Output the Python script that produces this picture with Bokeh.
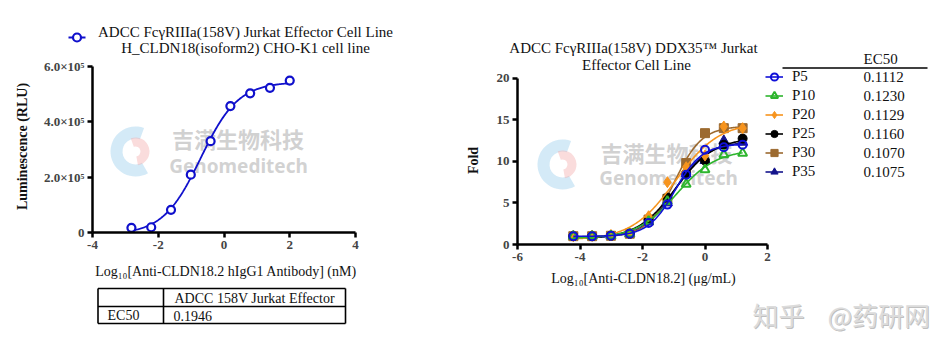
import numpy as np
from bokeh.plotting import figure
from bokeh.layouts import row
from bokeh.models import Range1d, FixedTicker, Legend, LegendItem
from bokeh.core.properties import value
from bokeh.embed import file_html
from bokeh.resources import INLINE

SERIF = "Liberation Serif"
CJK = "Noto Sans CJK SC"

# ---------------- data: left chart ----------------
left_log_conc = [-2.816, -2.214, -1.612, -1.010, -0.408, 0.194, 0.796, 1.398, 2.000]
left_rlu = [17000, 19000, 82000, 209000, 330000, 457000, 503000, 523000, 549000]
left_ec50 = 0.1946
left_series_lines = ["ADCC FcγRIIIa(158V) Jurkat Effector Cell Line",
                     "H_CLDN18(isoform2) CHO-K1 cell line"]
left_xticks = [-4, -2, 0, 2, 4]
left_xtick_labels = ["-4", "-2", "0", "2", "4"]
left_yticks = [0, 200000, 400000, 600000]
left_ytick_labels = ["0", "2.0×10⁵", "4.0×10⁵", "6.0×10⁵"]
left_xlabel = "Log₁₀[Anti-CLDN18.2 hIgG1 Antibody] (nM)"
left_ylabel = "Luminescence (RLU)"
left_table_header = "ADCC 158V Jurkat Effector"
left_table_rowname = "EC50"

# ---------------- data: right chart ----------------
right_log_conc = [-4.214, -3.612, -3.010, -2.408, -1.806, -1.204, -0.602, 0.000, 0.602, 1.204]
passages = ["P5", "P10", "P20", "P25", "P30", "P35"]
fold_p5 = [1.0, 1.0, 1.05, 1.3, 2.6, 4.8, 8.4, 11.4, 11.7, 12.0]
fold_p10 = [1.0, 1.0, 1.05, 1.3, 2.8, 5.2, 7.25, 9.0, 10.8, 11.0]
fold_p20 = [1.0, 1.05, 1.15, 1.4, 3.4, 7.5, 9.3, 10.7, 14.2, 14.0]
fold_p25 = [1.0, 1.0, 1.05, 1.3, 3.0, 5.65, 8.6, 10.1, 12.0, 12.75]
fold_p30 = [1.0, 1.0, 1.05, 1.3, 3.0, 5.5, 9.8, 13.4, 14.0, 14.0]
fold_p35 = [1.0, 1.0, 1.05, 1.3, 2.7, 5.0, 8.5, 10.1, 12.5, 12.3]
ec50_values = [0.1112, 0.1230, 0.1129, 0.1160, 0.1070, 0.1075]
right_xticks = [-6, -4, -2, 0, 2]
right_xtick_labels = ["-6", "-4", "-2", "0", "2"]
right_yticks = [0, 5, 10, 15, 20]
right_title_lines = ["ADCC FcγRIIIa(158V) DDX35™ Jurkat", "Effector Cell Line"]
right_xlabel = "Log₁₀[Anti-CLDN18.2] (μg/mL)"
right_ylabel = "Fold"

# ---------------- styles ----------------
BLUE = "#1010CC"
INK = "#111111"
styles = {
    "P5":  dict(color="#1010D8", marker="circle",   fill=None,      size=8, lw=2.0),
    "P10": dict(color="#2DB52D", marker="triangle", fill=None,      size=9, lw=2.0),
    "P20": dict(color="#F7941D", marker="diamond",  fill="#F7941D", size=11, lw=1.0),
    "P25": dict(color="#000000", marker="circle",   fill="#000000", size=9, lw=1.0),
    "P30": dict(color="#9C6A30", marker="square",   fill="#9C6A30", size=9, lw=1.0),
    "P35": dict(color="#14148C", marker="triangle", fill="#14148C", size=10, lw=1.0),
}
COMMON = dict(output_backend="svg", toolbar_location=None, frame_align=False, min_border=0)


def fit_4pl(x, y, log_ec50):
    """Least-squares fit of bottom/top/hill with EC50 fixed to the reported value."""
    x = np.asarray(x, float)
    y = np.asarray(y, float)
    best = None
    for h in np.linspace(0.3, 3.0, 271):
        s = 1.0 / (1.0 + 10.0 ** ((log_ec50 - x) * h))
        A = np.column_stack([1 - s, s])
        coef, *_ = np.linalg.lstsq(A, y, rcond=None)
        r = float(np.sum((A @ coef - y) ** 2))
        if best is None or r < best[0]:
            best = (r, coef[0], coef[1], h)
    _, bottom, top, h = best
    xs = np.linspace(x.min(), x.max(), 200)
    ys = bottom + (top - bottom) / (1.0 + 10.0 ** ((log_ec50 - xs) * h))
    return xs, ys


def style_axes(p, xloc, yloc, xbounds, ybounds):
    p.xaxis.fixed_location = xloc
    p.yaxis.fixed_location = yloc
    p.xaxis.bounds = xbounds
    p.yaxis.bounds = ybounds
    for ax in p.axis:
        ax.axis_line_width = 2.5
        ax.major_tick_line_width = 2.5
        ax.major_tick_in = 0
        ax.major_tick_out = 5
        ax.minor_tick_line_color = None
        ax.major_label_text_font = SERIF
        ax.major_label_text_font_style = "bold"
        ax.major_label_text_font_size = "13px"
        ax.major_label_standoff = 3
    p.grid.visible = False
    p.outline_line_color = None


def put_text(f, xs, ys, texts, align="left", size="15px", font=SERIF, color=INK, style="normal",
             alpha=1.0, angle=0.0):
    f.text(x=xs, y=ys, text=texts, text_align=align, text_baseline="middle",
           text_font=value(font), text_font_size=size, text_color=color,
           text_font_style=style, text_alpha=alpha, angle=angle)


def logo(p, cx, cy):
    p.annular_wedge(x=[cx], y=[cy], inner_radius=13, outer_radius=25,
                    inner_radius_units="screen", outer_radius_units="screen",
                    start_angle=np.radians(70), end_angle=np.radians(300),
                    color="#9FD0EE", alpha=0.45, line_alpha=0)
    p.annular_wedge(x=[cx], y=[cy], inner_radius=5, outer_radius=14,
                    inner_radius_units="screen", outer_radius_units="screen",
                    start_angle=np.radians(-80), end_angle=np.radians(110),
                    color="#F2A7A7", alpha=0.4, line_alpha=0)


def watermark(p, cx1, cy1, cx2, cy2):
    put_text(p, [cx1], [cy1], ["吉满生物科技"], align="center", size="22px", font=CJK,
             color="#BDBDBD", style="bold", alpha=0.7)
    put_text(p, [cx2], [cy2], ["Genomeditech"], align="center", size="19px", font="Noto Sans",
             color="#C4C4C4", style="bold", alpha=0.75)


# ======================= LEFT CHART (page x 0..460) =======================
def lx(px):  # page x -> data x  (x=-4 at page 92, 32.875 px per unit)
    return -4 + (px - 92) / 32.875


def ly(py):  # page y -> data y  (y=0 at page 232, 6e5 at page 66)
    return (232 - py) / 166.0 * 600000


pl = figure(width=460, height=345, x_range=Range1d(lx(0), lx(460)), y_range=Range1d(ly(345), ly(0)),
            **COMMON)
style_axes(pl, 0, -4, (-4, 4), (0, 600000))
pl.xaxis.ticker = FixedTicker(ticks=left_xticks)
pl.xaxis.major_label_overrides = dict(zip(left_xticks, left_xtick_labels))
pl.yaxis.ticker = FixedTicker(ticks=left_yticks)
pl.yaxis.major_label_overrides = dict(zip(left_yticks, left_ytick_labels))

logo(pl, lx(135), ly(151))
watermark(pl, lx(237.5), ly(137), lx(238), ly(165))

lxs, lys = fit_4pl(left_log_conc, left_rlu, np.log10(left_ec50))
pl.line(lxs, lys, color=BLUE, line_width=1.8)
pl.scatter(left_log_conc, left_rlu, marker="circle", size=8, line_color=BLUE, fill_color="white",
           line_width=2.2)

# legend symbol + two-line series name above the plot
pl.line(x=[lx(68), lx(85)], y=[ly(37), ly(37)], color=BLUE, line_width=2)
pl.scatter(x=[lx(76.5)], y=[ly(37)], marker="circle", size=8, line_color=BLUE, fill_color="white",
           line_width=2.2)
put_text(pl, [lx(245), lx(245)], [ly(31), ly(47)], left_series_lines, align="center", size="15px")

# axis titles
put_text(pl, [lx(225.5)], [ly(271)], [left_xlabel], align="center", size="14px")
put_text(pl, [lx(22)], [ly(146)], [left_ylabel], align="center", size="14px", style="bold",
         angle=np.pi / 2)

# EC50 table
tx0, tx1, tx2 = lx(97.5), lx(163), lx(345)
ty0, ty1, ty2 = ly(288), ly(306), ly(323)
pl.segment(x0=[tx0, tx0, tx0, tx0, tx1, tx2], y0=[ty0, ty1, ty2, ty0, ty0, ty0],
           x1=[tx2, tx2, tx2, tx0, tx1, tx2], y1=[ty0, ty1, ty2, ty2, ty2, ty2],
           line_color="#000000", line_width=1.6)
put_text(pl, [lx(174), lx(107), lx(173)], [ly(297.5), ly(315), ly(315)],
         [left_table_header, left_table_rowname, f"{left_ec50:.4f}"], size="14px")


# ======================= RIGHT CHART (page x 460..950) =======================
def rx(px):  # page x -> data x (x=-6 at page 517, 31.25 px per unit)
    return -6 + (px - 517) / 31.25


def ry(py):  # page y -> data y (y=0 at page 244, 8.31 px per unit)
    return (244 - py) / 8.31


pr = figure(width=490, height=345, x_range=Range1d(rx(460), rx(950)), y_range=Range1d(ry(345), ry(0)),
            **COMMON)
style_axes(pr, 0, -6, (-6, 2), (0, 20))
pr.xaxis.ticker = FixedTicker(ticks=right_xticks)
pr.xaxis.major_label_overrides = dict(zip(right_xticks, right_xtick_labels))
pr.yaxis.ticker = FixedTicker(ticks=right_yticks)

logo(pr, rx(562), ry(164))
watermark(pr, rx(666), ry(151), rx(668), ry(177.5))

series = dict(zip(passages, [fold_p5, fold_p10, fold_p20, fold_p25, fold_p30, fold_p35]))
ec50_map = dict(zip(passages, ec50_values))
renderers = {}
for name in reversed(passages):
    st = styles[name]
    xs, ys = fit_4pl(right_log_conc, series[name], np.log10(ec50_map[name]))
    lr = pr.line(xs, ys, color=st["color"], line_width=1.6)
    sr = pr.scatter(right_log_conc, series[name], marker=st["marker"], size=st["size"],
                    line_color=st["color"], fill_color=st["fill"], line_width=st["lw"])
    renderers[name] = [lr, sr]

# legend: frame starts at page x 460 and its bottom is page y 345
legend = Legend(items=[LegendItem(label=n, renderers=renderers[n]) for n in passages],
                location=(765 - 460, 345 - 181.2), orientation="vertical",
                glyph_width=18, glyph_height=19, label_height=19, spacing=0, padding=0, margin=0,
                label_standoff=9, label_text_font=SERIF, label_text_font_size="15px",
                label_text_color=INK, border_line_color=None, background_fill_alpha=0)
pr.add_layout(legend)

# EC50 column
put_text(pr, [rx(863)], [ry(58)], ["EC50"], size="15px")
pr.segment(x0=[rx(782)], y0=[ry(67.5)], x1=[rx(927)], y1=[ry(67.5)], line_color="#000000", line_width=1.5)
put_text(pr, [rx(863)] * len(ec50_values), [ry(76.7 + 19 * i) for i in range(len(ec50_values))],
         [f"{v:.4f}" for v in ec50_values], size="15px")

# title and axis titles
put_text(pr, [rx(633), rx(636)], [ry(47.5), ry(64)], right_title_lines, align="center", size="15px")
put_text(pr, [rx(643)], [ry(277.5)], [right_xlabel], align="center", size="14px")
put_text(pr, [rx(472.5)], [ry(160)], [right_ylabel], align="center", size="14px", style="bold",
         angle=np.pi / 2)

# zhihu watermark (light embossed grey)
put_text(pr, [rx(753)], [ry(315)], ["知乎"], size="26px", font=CJK, color="#AFAFAF", alpha=0.8)
put_text(pr, [rx(828)], [ry(315)], ["@药研网"], size="26px", font=CJK, color="#AFAFAF", alpha=0.8)
put_text(pr, [rx(752)], [ry(314)], ["知乎"], size="26px", font=CJK, color="#DCDCDC")
put_text(pr, [rx(827)], [ry(314)], ["@药研网"], size="26px", font=CJK, color="#DCDCDC")

layout = row(pl, pr)
open("out.html", "w").write(file_html(layout, INLINE))
